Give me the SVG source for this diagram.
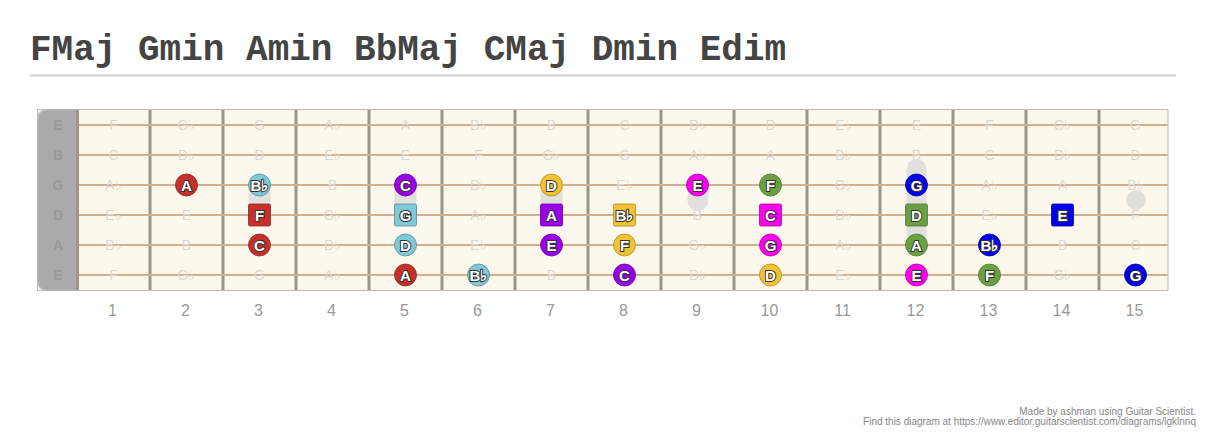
<svg xmlns="http://www.w3.org/2000/svg" width="1206" height="437" viewBox="0 0 1206 437">
<style>
.title{font-family:"Liberation Mono","DejaVu Sans Mono",monospace;font-weight:bold;font-size:36px;fill:#444}
.strname{font-family:"Liberation Sans",Arial,sans-serif;font-weight:bold;font-size:14px;fill:#999;text-anchor:middle}
.ghost{font-family:"Liberation Sans",Arial,sans-serif;font-size:14px;fill:#dcd8d0;text-anchor:middle}
.fretnum{font-family:"Liberation Sans",Arial,sans-serif;font-size:16px;fill:#999;text-anchor:middle}
.foot{font-family:"Liberation Sans",Arial,sans-serif;font-size:10px;fill:#888;text-anchor:end}
.fret{stroke:#9a958e;stroke-width:3}
.str{stroke:#d6b08c;stroke-width:2}
.nl{font-family:"Liberation Sans",Arial,sans-serif;font-weight:bold;font-size:15px;fill:#fff;stroke:#333;stroke-width:2;paint-order:stroke;text-anchor:middle}
.shadow{fill:#e2e0dc}
.red{fill:#c5302a;stroke:#8a2a20;stroke-width:0.8}
.lb{fill:#80c9d8;stroke:#5a8c96;stroke-width:0.8}
.pu{fill:#9a00ea;stroke:#6a00a0;stroke-width:0.8}
.ye{fill:#f1c232;stroke:#b08c20;stroke-width:0.8}
.ma{fill:#ff00ee;stroke:#b000a0;stroke-width:0.8}
.gr{fill:#6aa042;stroke:#4a7a30;stroke-width:0.8}
.bl{fill:#0000ee;stroke:#0000a0;stroke-width:0.8}
</style>
<rect width="1206" height="437" fill="#fff"/>
<g id="title">
<text class="title" x="30" y="60">FMaj Gmin Amin BbMaj CMaj Dmin Edim</text>
<line x1="30" y1="75.5" x2="1176" y2="75.5" stroke="#ccc" stroke-width="2"/>
</g>
<g id="fretboard">
<rect x="37.5" y="109.5" width="1130.5" height="181" fill="#fdf8ee" stroke="#bbb" stroke-width="1"/>
<path d="M77,110 L77,290 L47.5,290 Q38,290 38,280.5 L38,119.5 Q38,110 47.5,110 Z" fill="#aaaaaa"/>
<path d="M77,109.5 L47.5,109.5 Q37.5,109.5 37.5,119.5 L37.5,280.5 Q37.5,290.5 47.5,290.5 L77,290.5" fill="none" stroke="#bbb" stroke-width="1"/>
<line x1="77.5" y1="110" x2="77.5" y2="290" stroke="#9a958e" stroke-width="3"/>
<g id="frets">
<line class="fret" x1="150" y1="110" x2="150" y2="290"/>
<line class="fret" x1="223" y1="110" x2="223" y2="290"/>
<line class="fret" x1="296" y1="110" x2="296" y2="290"/>
<line class="fret" x1="369" y1="110" x2="369" y2="290"/>
<line class="fret" x1="442" y1="110" x2="442" y2="290"/>
<line class="fret" x1="515" y1="110" x2="515" y2="290"/>
<line class="fret" x1="588" y1="110" x2="588" y2="290"/>
<line class="fret" x1="661" y1="110" x2="661" y2="290"/>
<line class="fret" x1="734" y1="110" x2="734" y2="290"/>
<line class="fret" x1="807" y1="110" x2="807" y2="290"/>
<line class="fret" x1="880" y1="110" x2="880" y2="290"/>
<line class="fret" x1="953" y1="110" x2="953" y2="290"/>
<line class="fret" x1="1026" y1="110" x2="1026" y2="290"/>
<line class="fret" x1="1099" y1="110" x2="1099" y2="290"/>
</g>
<g id="strings">
<line class="str" x1="79" y1="125" x2="1168" y2="125"/>
<line class="str" x1="79" y1="155" x2="1168" y2="155"/>
<line class="str" x1="79" y1="185" x2="1168" y2="185"/>
<line class="str" x1="79" y1="215" x2="1168" y2="215"/>
<line class="str" x1="79" y1="245" x2="1168" y2="245"/>
<line class="str" x1="79" y1="275" x2="1168" y2="275"/>
</g>
<g id="string-names">
<text class="strname" x="58" y="130">E</text>
<text class="strname" x="58" y="160">B</text>
<text class="strname" x="58" y="190">G</text>
<text class="strname" x="58" y="220">D</text>
<text class="strname" x="58" y="250">A</text>
<text class="strname" x="58" y="280">E</text>
</g>
<g id="ghost-notes">
<text class="ghost" x="113.5" y="130">F</text><text class="ghost" x="186.5" y="130">G♭</text><text class="ghost" x="259.5" y="130">G</text><text class="ghost" x="332.5" y="130">A♭</text><text class="ghost" x="405.5" y="130">A</text><text class="ghost" x="478.5" y="130">B♭</text><text class="ghost" x="551.5" y="130">B</text><text class="ghost" x="624.5" y="130">C</text><text class="ghost" x="697.5" y="130">D♭</text><text class="ghost" x="770.5" y="130">D</text><text class="ghost" x="843.5" y="130">E♭</text><text class="ghost" x="916.5" y="130">E</text><text class="ghost" x="989.5" y="130">F</text><text class="ghost" x="1062.5" y="130">G♭</text><text class="ghost" x="1135.5" y="130">G</text>
<text class="ghost" x="113.5" y="160">C</text><text class="ghost" x="186.5" y="160">D♭</text><text class="ghost" x="259.5" y="160">D</text><text class="ghost" x="332.5" y="160">E♭</text><text class="ghost" x="405.5" y="160">E</text><text class="ghost" x="478.5" y="160">F</text><text class="ghost" x="551.5" y="160">G♭</text><text class="ghost" x="624.5" y="160">G</text><text class="ghost" x="697.5" y="160">A♭</text><text class="ghost" x="770.5" y="160">A</text><text class="ghost" x="843.5" y="160">B♭</text><text class="ghost" x="916.5" y="160">B</text><text class="ghost" x="989.5" y="160">C</text><text class="ghost" x="1062.5" y="160">D♭</text><text class="ghost" x="1135.5" y="160">D</text>
<text class="ghost" x="113.5" y="190">A♭</text><text class="ghost" x="332.5" y="190">B</text><text class="ghost" x="478.5" y="190">D♭</text><text class="ghost" x="624.5" y="190">E♭</text><text class="ghost" x="843.5" y="190">G♭</text><text class="ghost" x="989.5" y="190">A♭</text><text class="ghost" x="1062.5" y="190">A</text><text class="ghost" x="1135.5" y="190">B♭</text>
<text class="ghost" x="113.5" y="220">E♭</text><text class="ghost" x="186.5" y="220">E</text><text class="ghost" x="332.5" y="220">G♭</text><text class="ghost" x="478.5" y="220">A♭</text><text class="ghost" x="697.5" y="220">B</text><text class="ghost" x="843.5" y="220">D♭</text><text class="ghost" x="989.5" y="220">E♭</text><text class="ghost" x="1135.5" y="220">F</text>
<text class="ghost" x="113.5" y="250">B♭</text><text class="ghost" x="186.5" y="250">B</text><text class="ghost" x="332.5" y="250">D♭</text><text class="ghost" x="478.5" y="250">E♭</text><text class="ghost" x="697.5" y="250">G♭</text><text class="ghost" x="843.5" y="250">A♭</text><text class="ghost" x="1062.5" y="250">B</text><text class="ghost" x="1135.5" y="250">C</text>
<text class="ghost" x="113.5" y="280">F</text><text class="ghost" x="186.5" y="280">G♭</text><text class="ghost" x="259.5" y="280">G</text><text class="ghost" x="332.5" y="280">A♭</text><text class="ghost" x="551.5" y="280">B</text><text class="ghost" x="697.5" y="280">D♭</text><text class="ghost" x="843.5" y="280">E♭</text><text class="ghost" x="1062.5" y="280">G♭</text>
</g>
<g id="shadows">
<rect class="shadow" x="248.5" y="185" width="22" height="30" rx="4"/>
<rect class="shadow" x="394.5" y="185" width="22" height="30" rx="4"/>
<rect class="shadow" x="540.5" y="185" width="22" height="30" rx="4"/>
<rect class="shadow" x="687.5" y="186" width="21" height="25" rx="10.5"/>
<rect class="shadow" x="906.5" y="159" width="20" height="86" rx="10"/>
<circle class="shadow" cx="1136" cy="200" r="10"/>
</g>
</g>
<g id="fret-numbers">
<text class="fretnum" x="112.5" y="316">1</text><text class="fretnum" x="185.5" y="316">2</text><text class="fretnum" x="258.5" y="316">3</text><text class="fretnum" x="331.5" y="316">4</text><text class="fretnum" x="404.5" y="316">5</text><text class="fretnum" x="477.5" y="316">6</text><text class="fretnum" x="550.5" y="316">7</text><text class="fretnum" x="623.5" y="316">8</text><text class="fretnum" x="696.5" y="316">9</text><text class="fretnum" x="769.5" y="316">10</text><text class="fretnum" x="842.5" y="316">11</text><text class="fretnum" x="915.5" y="316">12</text><text class="fretnum" x="988.5" y="316">13</text><text class="fretnum" x="1061.5" y="316">14</text><text class="fretnum" x="1134.5" y="316">15</text>
</g>
<g id="notes">
<g id="n-f2-G"><circle class="red" cx="186.5" cy="185" r="11"/><text class="nl" x="186.5" y="190.5">A</text></g>
<g id="n-f3-G"><circle class="lb" cx="259.5" cy="185" r="11"/><text class="nl" x="259.5" y="190.5">B♭</text></g>
<g id="n-f3-D"><rect class="red" x="248.5" y="204" width="22" height="22" rx="1.5"/><text class="nl" x="259.5" y="220.5">F</text></g>
<g id="n-f3-A"><circle class="red" cx="259.5" cy="245" r="11"/><text class="nl" x="259.5" y="250.5">C</text></g>
<g id="n-f5-G"><circle class="pu" cx="405.5" cy="185" r="11"/><text class="nl" x="405.5" y="190.5">C</text></g>
<g id="n-f5-D"><rect class="lb" x="394.5" y="204" width="22" height="22" rx="1.5"/><text class="nl" x="405.5" y="220.5">G</text></g>
<g id="n-f5-A"><circle class="lb" cx="405.5" cy="245" r="11"/><text class="nl" x="405.5" y="250.5">D</text></g>
<g id="n-f5-E"><circle class="red" cx="405.5" cy="275" r="11"/><text class="nl" x="405.5" y="280.5">A</text></g>
<g id="n-f6-E"><circle class="lb" cx="478.5" cy="275" r="11"/><text class="nl" x="478.5" y="280.5">B♭</text></g>
<g id="n-f7-G"><circle class="ye" cx="551.5" cy="185" r="11"/><text class="nl" x="551.5" y="190.5">D</text></g>
<g id="n-f7-D"><rect class="pu" x="540.5" y="204" width="22" height="22" rx="1.5"/><text class="nl" x="551.5" y="220.5">A</text></g>
<g id="n-f7-A"><circle class="pu" cx="551.5" cy="245" r="11"/><text class="nl" x="551.5" y="250.5">E</text></g>
<g id="n-f8-D"><rect class="ye" x="613.5" y="204" width="22" height="22" rx="1.5"/><text class="nl" x="624.5" y="220.5">B♭</text></g>
<g id="n-f8-A"><circle class="ye" cx="624.5" cy="245" r="11"/><text class="nl" x="624.5" y="250.5">F</text></g>
<g id="n-f8-E"><circle class="pu" cx="624.5" cy="275" r="11"/><text class="nl" x="624.5" y="280.5">C</text></g>
<g id="n-f9-G"><circle class="ma" cx="697.5" cy="185" r="11"/><text class="nl" x="697.5" y="190.5">E</text></g>
<g id="n-f10-G"><circle class="gr" cx="770.5" cy="185" r="11"/><text class="nl" x="770.5" y="190.5">F</text></g>
<g id="n-f10-D"><rect class="ma" x="759.5" y="204" width="22" height="22" rx="1.5"/><text class="nl" x="770.5" y="220.5">C</text></g>
<g id="n-f10-A"><circle class="ma" cx="770.5" cy="245" r="11"/><text class="nl" x="770.5" y="250.5">G</text></g>
<g id="n-f10-E"><circle class="ye" cx="770.5" cy="275" r="11"/><text class="nl" x="770.5" y="280.5">D</text></g>
<g id="n-f12-G"><circle class="bl" cx="916.5" cy="185" r="11"/><text class="nl" x="916.5" y="190.5">G</text></g>
<g id="n-f12-D"><rect class="gr" x="905.5" y="204" width="22" height="22" rx="1.5"/><text class="nl" x="916.5" y="220.5">D</text></g>
<g id="n-f12-A"><circle class="gr" cx="916.5" cy="245" r="11"/><text class="nl" x="916.5" y="250.5">A</text></g>
<g id="n-f12-E"><circle class="ma" cx="916.5" cy="275" r="11"/><text class="nl" x="916.5" y="280.5">E</text></g>
<g id="n-f13-A"><circle class="bl" cx="989.5" cy="245" r="11"/><text class="nl" x="989.5" y="250.5">B♭</text></g>
<g id="n-f13-E"><circle class="gr" cx="989.5" cy="275" r="11"/><text class="nl" x="989.5" y="280.5">F</text></g>
<g id="n-f14-D"><rect class="bl" x="1051.5" y="204" width="22" height="22" rx="1.5"/><text class="nl" x="1062.5" y="220.5">E</text></g>
<g id="n-f15-E"><circle class="bl" cx="1135.5" cy="275" r="11"/><text class="nl" x="1135.5" y="280.5">G</text></g>
</g>
<g id="footer">
<text class="foot" x="1196" y="415">Made by ashman using Guitar Scientist.</text>
<text class="foot" x="1196" y="425">Find this diagram at https://www.editor.guitarscientist.com/diagrams/lgklnnq</text>
</g>
</svg>
